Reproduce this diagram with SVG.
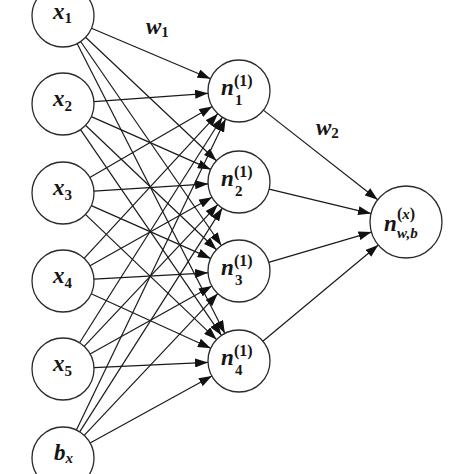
<svg xmlns="http://www.w3.org/2000/svg" width="474" height="474" viewBox="0 0 474 474">
<style>
.bg{fill:#ffffff}
.node circle{fill:#ffffff;stroke:#2a2a2a;stroke-width:1.3}
.edges line{stroke:#1a1a1a;stroke-width:1.2;marker-end:url(#arr)}
text{font-family:"Liberation Serif","DejaVu Serif",serif;font-weight:bold;fill:#151515}
.v{font-style:italic;font-size:23px}
.s{font-style:normal;font-size:15px}
.p{font-style:normal;font-size:16px}
.si{font-style:italic;font-size:15px}
</style>
<defs>
<marker id="arr" markerUnits="userSpaceOnUse" markerWidth="13" markerHeight="9" refX="13" refY="4.5" orient="auto">
<path d="M0,0 L13,4.5 L0,9 z" fill="#111"/>
</marker>
</defs>
<rect class="bg" x="0" y="0" width="474" height="474"/>
<g id="connectors" class="edges">
<line x1="91.5" y1="28.2" x2="210.5" y2="78.8"/>
<line x1="85.6" y1="37.3" x2="216.4" y2="160.7"/>
<line x1="80.6" y1="41.5" x2="221.4" y2="245.5"/>
<line x1="77.1" y1="43.6" x2="224.9" y2="333.4"/>
<line x1="93.9" y1="101.7" x2="208.1" y2="93.3"/>
<line x1="91.3" y1="116.6" x2="210.7" y2="169.4"/>
<line x1="85.5" y1="125.3" x2="216.5" y2="249.7"/>
<line x1="80.5" y1="129.6" x2="221.5" y2="335.4"/>
<line x1="89.8" y1="177.5" x2="212.2" y2="106.5"/>
<line x1="93.9" y1="191.1" x2="208.1" y2="183.9"/>
<line x1="91.3" y1="205.6" x2="210.7" y2="258.4"/>
<line x1="85.4" y1="214.4" x2="216.6" y2="339.6"/>
<line x1="84.1" y1="258.3" x2="217.9" y2="113.7"/>
<line x1="90.0" y1="265.8" x2="212.0" y2="197.2"/>
<line x1="93.9" y1="279.2" x2="208.1" y2="272.8"/>
<line x1="91.2" y1="293.8" x2="210.8" y2="348.2"/>
<line x1="79.6" y1="342.8" x2="222.4" y2="117.2"/>
<line x1="84.2" y1="346.4" x2="217.8" y2="204.6"/>
<line x1="90.1" y1="353.9" x2="211.9" y2="286.1"/>
<line x1="94.0" y1="367.6" x2="208.0" y2="362.4"/>
<line x1="76.4" y1="430.0" x2="225.6" y2="119.0"/>
<line x1="79.7" y1="431.9" x2="222.3" y2="208.1"/>
<line x1="84.2" y1="435.4" x2="217.8" y2="293.6"/>
<line x1="90.1" y1="443.0" x2="211.9" y2="376.0"/>
<line x1="263.4" y1="110.1" x2="377.7" y2="199.8"/>
<line x1="269.1" y1="189.2" x2="371.0" y2="213.6"/>
<line x1="268.7" y1="262.3" x2="371.5" y2="232.1"/>
<line x1="262.8" y1="341.2" x2="378.3" y2="245.0"/>
</g>
<g id="labels-weights">
<text x="146" y="34" class="v">w<tspan class="s" dy="3">1</tspan></text>
<text x="316" y="135" class="v">w<tspan class="s" dy="3">2</tspan></text>
</g>
<g id="x1" class="node"><circle cx="63" cy="16" r="31"/><text x="53" y="19" class="v">x<tspan class="s" dy="4">1</tspan></text></g>
<g id="x2" class="node"><circle cx="63" cy="104" r="31"/><text x="53" y="106" class="v">x<tspan class="s" dy="5">2</tspan></text></g>
<g id="x3" class="node"><circle cx="63" cy="193" r="31"/><text x="53" y="195" class="v">x<tspan class="s" dy="5">3</tspan></text></g>
<g id="x4" class="node"><circle cx="63" cy="281" r="31"/><text x="53" y="283" class="v">x<tspan class="s" dy="5">4</tspan></text></g>
<g id="x5" class="node"><circle cx="63" cy="369" r="31"/><text x="53" y="371" class="v">x<tspan class="s" dy="5">5</tspan></text></g>
<g id="bx" class="node"><circle cx="63" cy="458" r="31"/><text x="54" y="460" class="v">b<tspan class="si" dy="3">x</tspan></text></g>
<g id="n1" class="node"><circle cx="239" cy="91" r="31"/><text x="221" y="95" class="v">n</text><text x="234" y="86" class="p">(1)</text><text x="235" y="105" class="s">1</text></g>
<g id="n2" class="node"><circle cx="239" cy="182" r="31"/><text x="221" y="186" class="v">n</text><text x="234" y="177" class="p">(1)</text><text x="235" y="196" class="s">2</text></g>
<g id="n3" class="node"><circle cx="239" cy="271" r="31"/><text x="221" y="275" class="v">n</text><text x="234" y="266" class="p">(1)</text><text x="235" y="285" class="s">3</text></g>
<g id="n4" class="node"><circle cx="239" cy="361" r="31"/><text x="221" y="365" class="v">n</text><text x="234" y="356" class="p">(1)</text><text x="235" y="375" class="s">4</text></g>
<g id="out" class="node"><circle cx="406" cy="222" r="36"/><text x="384" y="231" class="v">n</text><text x="397" y="219" class="p">(<tspan class="si">x</tspan>)</text><text x="397" y="238" class="si">w,b</text></g>
</svg>
